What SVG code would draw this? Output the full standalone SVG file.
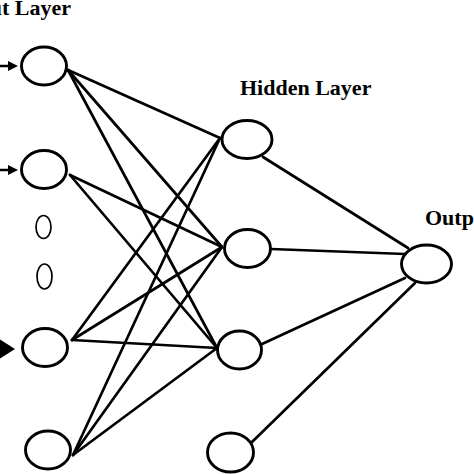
<svg xmlns="http://www.w3.org/2000/svg" width="474" height="474" viewBox="0 0 474 474">
<style>
.node{fill:#fff;stroke:#000;stroke-width:2.9}
.dot{fill:#fff;stroke:#000;stroke-width:1.7}
.edge{stroke:#000;stroke-width:2.7;fill:none;stroke-linecap:round}
.lbl{font-family:"Liberation Serif","Times New Roman",serif;font-weight:bold;font-size:22px;fill:#000}
</style>
<rect width="474" height="474" fill="#fff"/>
<g id="connectors">
<line class="edge" x1="68" y1="70" x2="220" y2="138"/>
<line class="edge" x1="68" y1="70" x2="222" y2="247"/>
<line class="edge" x1="68" y1="70" x2="217" y2="348"/>
<line class="edge" x1="70" y1="175" x2="222" y2="247"/>
<line class="edge" x1="70" y1="175" x2="217" y2="348"/>
<line class="edge" x1="72" y1="340" x2="220" y2="138"/>
<line class="edge" x1="72" y1="340" x2="222" y2="247"/>
<line class="edge" x1="72" y1="340" x2="217" y2="348"/>
<line class="edge" x1="73" y1="455" x2="220" y2="138"/>
<line class="edge" x1="73" y1="455" x2="222" y2="247"/>
<line class="edge" x1="73" y1="455" x2="217" y2="348"/>
<line class="edge" x1="263" y1="157" x2="408" y2="248"/>
<line class="edge" x1="271" y1="249" x2="405" y2="254"/>
<line class="edge" x1="262" y1="344" x2="405" y2="278"/>
<line class="edge" x1="252" y1="442" x2="415" y2="283"/>
<line class="edge" x1="0" y1="66" x2="10" y2="66"/>
<polygon points="8,61 18,66 8,71" fill="#000"/>
<line class="edge" x1="0" y1="170" x2="10" y2="170"/>
<polygon points="8,165 18,170 8,175" fill="#000"/>
<polygon points="-4,337 15,349 -4,361" fill="#000"/>
</g>
<g id="input1"><ellipse class="node" cx="44" cy="66" rx="22.5" ry="19"/></g>
<g id="input2"><ellipse class="node" cx="44" cy="169.5" rx="22.5" ry="19"/></g>
<g id="ellipsis1"><ellipse class="dot" cx="43.5" cy="227" rx="7.5" ry="11.5"/></g>
<g id="ellipsis2"><ellipse class="dot" cx="44.5" cy="276.5" rx="7.5" ry="12.5"/></g>
<g id="input3"><ellipse class="node" cx="45" cy="347.5" rx="22.5" ry="19"/></g>
<g id="input4"><ellipse class="node" cx="48" cy="450" rx="22.5" ry="19"/></g>
<g id="hidden1"><ellipse class="node" cx="247" cy="139.5" rx="25" ry="19"/></g>
<g id="hidden2"><ellipse class="node" cx="247.5" cy="248.5" rx="23" ry="19"/></g>
<g id="hidden3"><ellipse class="node" cx="239.5" cy="350" rx="22" ry="19"/></g>
<g id="hidden4"><ellipse class="node" cx="230.5" cy="452.5" rx="23" ry="19.5"/></g>
<g id="output1"><ellipse class="node" cx="426.5" cy="264" rx="25" ry="19"/></g>
<g id="labels">
<text class="lbl" x="71" y="15" text-anchor="end">Input Layer</text>
<text class="lbl" x="240" y="95">Hidden Layer</text>
<text class="lbl" x="425" y="225">Output Layer</text>
</g>
</svg>
